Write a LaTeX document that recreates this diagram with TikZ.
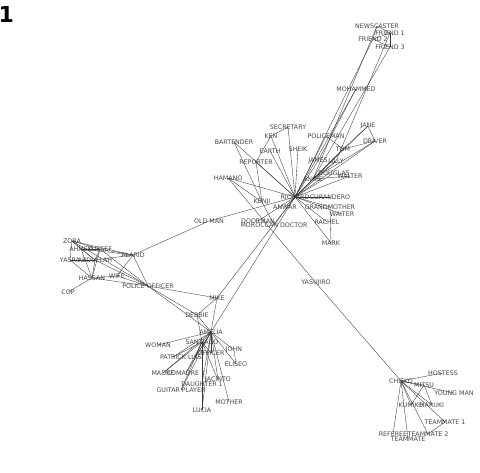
\documentclass[tikz,border=0pt]{standalone}
\usepackage{fontspec}
\setmainfont{DejaVu Sans}
\begin{document}
\begin{tikzpicture}[x=1pt,y={(0pt,-1pt)},
  lbl/.style={font=\fontsize{6.3}{7}\selectfont, text=black!72, inner sep=0pt},
  edge/.style={draw=black!78, line width=0.35pt}]
\useasboundingbox (0,0) rectangle (480,472);
\node[font=\fontsize{22}{24}\selectfont\bfseries, anchor=west, inner sep=0pt] (panel) at (-1.5,14) {1};
% top cluster
\node[lbl] (news) at (377,26) {NEWSCASTER};
\node[lbl] (f1) at (390,33) {FRIEND 1};
\node[lbl] (f2) at (373,39) {FRIEND 2};
\node[lbl] (f3) at (390,47) {FRIEND 3};
\node[lbl] (moh) at (356,89) {MOHAMMED};
% central cluster
\node[lbl] (sec) at (288,127) {SECRETARY};
\node[lbl] (ken) at (271,136) {KEN};
\node[lbl] (pol) at (326,136) {POLICEMAN};
\node[lbl] (jane) at (368,126) {JANE};
\node[lbl] (bart) at (234,142) {BARTENDER};
\node[lbl] (drv) at (375,141) {DRIVER};
\node[lbl] (earth) at (270,151) {EARTH};
\node[lbl] (sheik) at (298,149) {SHEIK};
\node[lbl] (tom) at (343,149) {TOM};
\node[lbl] (rep) at (256,162) {REPORTER};
\node[lbl] (james) at (318,161) {JAMES};
\node[lbl] (lilly) at (336,161) {LILLY};
\node[lbl] (doug) at (334,173) {DOUGLAS};
\node[lbl] (walt) at (350,176) {WALTER};
\node[lbl] (hamano) at (228,178) {HAMANO};
\node[lbl] (akx) at (313,179) {ANGIE};
\node[lbl] (kenji) at (262,202) {KENJI};
\node[lbl] (rich) at (295,197) {RICHARD};
\node[lbl] (cur) at (330,197) {CURANDERO};
\node[lbl] (anwar) at (285,207) {ANWAR};
\node[lbl] (grand) at (330,207) {GRANDMOTHER};
\node[lbl] (waiter) at (342,214) {WAITER};
\node[lbl] (oldman) at (209,221) {OLD MAN};
\node[lbl] (door) at (258,221) {DOORMAN};
\node[lbl] (mdoc) at (274,225) {MOROCCAN DOCTOR};
\node[lbl] (rachel) at (327,222) {RACHEL};
\node[lbl] (mark) at (331,243) {MARK};
\node[lbl] (yasu) at (316,283) {YASUJIRO};
% family cluster
\node[lbl] (zora) at (72,241) {ZORA};
\node[lbl] (ahmed) at (81,249) {AHMED};
\node[lbl] (yussef) at (100,249) {YUSSEF};
\node[lbl] (yasra) at (70,260) {YASRA};
\node[lbl] (abd) at (95,260) {ABDULLAH};
\node[lbl] (alarid) at (133,255) {ALARID};
\node[lbl] (hassan) at (92,278) {HASSAN};
\node[lbl] (wife) at (117,276) {WIFE};
\node[lbl] (police) at (148,286) {POLICE OFFICER};
\node[lbl] (cop) at (68,292) {COP};
% amelia cluster
\node[lbl] (mike) at (217,298) {MIKE};
\node[lbl] (debbie) at (197,315) {DEBBIE};
\node[lbl] (amelia) at (211,332) {AMELIA};
\node[lbl] (woman) at (158,345) {WOMAN};
\node[lbl] (sant) at (202,342) {SANTIAGO};
\node[lbl] (john) at (234,350) {JOHN};
\node[lbl] (patrick) at (173,357) {PATRICK};
\node[lbl] (luis) at (195,357) {LUIS};
\node[lbl] (officer) at (211,353) {OFFICER};
\node[lbl] (eliseo) at (236,364) {ELISEO};
\node[lbl] (madre) at (163,373) {MADRE};
\node[lbl] (comadre) at (186,373) {COMADRE 1};
\node[lbl] (jacinto) at (218,380) {JACINTO};
\node[lbl] (daughter) at (202,384) {DAUGHTER 1};
\node[lbl] (guitar) at (181,390) {GUITAR PLAYER};
\node[lbl] (mother) at (229,402) {MOTHER};
\node[lbl] (lucia) at (202,410) {LUCIA};
% tokyo cluster
\node[lbl] (chieko) at (401,381) {CHIEKO};
\node[lbl] (hostess) at (443,373) {HOSTESS};
\node[lbl] (mitsu) at (424,385) {MITSU};
\node[lbl] (young) at (454,393) {YOUNG MAN};
\node[lbl] (kumiko) at (411,405) {KUMIKO};
\node[lbl] (haruki) at (432,405) {HARUKI};
\node[lbl] (tm1) at (445,422) {TEAMMATE 1};
\node[lbl] (referee) at (393,434) {REFEREE};
\node[lbl] (tm2) at (428,434) {TEAMMATE 2};
\node[lbl] (tm) at (408,439) {TEAMMATE};
% edges
\foreach \a/\b in {news/f1, news/f2, f1/f3, f2/f3, f1/f2,
  news/akx, f1/lilly, f2/rich, f3/akx, moh/rich, moh/james,
  sec/rich, sec/ken, ken/rich, ken/rep, bart/rich, bart/kenji, earth/rich, sheik/rich,
  rep/rich, rep/kenji, hamano/kenji, hamano/rich, hamano/yasu, kenji/mdoc,
  pol/rich, pol/tom, jane/drv, jane/rich, jane/tom, drv/rich, drv/tom, drv/akx,
  tom/rich, tom/akx, james/rich, lilly/rich, lilly/akx, doug/rich, walt/rich, walt/akx,
  akx/rich, cur/rich, anwar/rich, grand/rich, waiter/rich, rachel/rich, mark/rich, mark/grand,
  oldman/rich, door/rich, mdoc/rich, rich/amelia, rich/mike, yasu/chieko,
  zora/ahmed, zora/yussef, zora/abd, zora/yasra, zora/alarid, zora/police,
  ahmed/yussef, ahmed/abd, ahmed/hassan, ahmed/alarid, yussef/abd, yussef/hassan,
  yussef/alarid, yasra/abd, yasra/hassan, abd/hassan, abd/alarid, abd/police,
  hassan/police, hassan/wife, hassan/cop, alarid/wife, alarid/police, alarid/oldman,
  wife/police, yussef/police, police/mike, police/amelia, police/debbie,
  amelia/mike, amelia/debbie, amelia/sant, amelia/woman, amelia/john, amelia/patrick,
  amelia/luis, amelia/officer, amelia/eliseo, amelia/madre, amelia/comadre,
  amelia/jacinto, amelia/daughter, amelia/guitar, amelia/mother, amelia/lucia,
  sant/debbie, sant/patrick, sant/luis, sant/madre, sant/comadre, sant/guitar,
  sant/officer, sant/daughter, sant/jacinto, sant/lucia, mike/debbie, john/eliseo,
  chieko/hostess, chieko/mitsu, chieko/young, chieko/kumiko, chieko/haruki,
  chieko/tm1, chieko/tm2, chieko/referee, chieko/tm, mitsu/kumiko, mitsu/haruki, tm1/tm2}
  \draw[edge] (\a.center) -- (\b.center);
\end{tikzpicture}
\end{document}
